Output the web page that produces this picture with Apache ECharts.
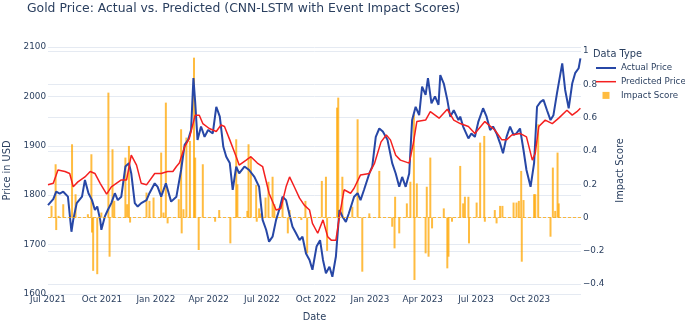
<!DOCTYPE html>
<html><head><meta charset="utf-8">
<script src="https://cdn.jsdelivr.net/npm/echarts@6/dist/echarts.min.js"></script>
<style>html,body{margin:0;padding:0;background:#fff}#c{width:685px;height:322px}</style>
</head><body><div id="c"></div>
<script>
const actualDates = ['2021-07-01','2021-07-10','2021-07-15','2021-07-21','2021-07-27','2021-07-30','2021-08-04','2021-08-10','2021-08-13','2021-08-19','2021-08-28','2021-09-02','2021-09-08','2021-09-14','2021-09-19','2021-09-23','2021-09-28','2021-09-30','2021-10-06','2021-10-11','2021-10-17','2021-10-23','2021-10-28','2021-11-03','2021-11-10','2021-11-16','2021-11-20','2021-11-26','2021-12-01','2021-12-07','2021-12-16','2021-12-21','2021-12-30','2022-01-04','2022-01-10','2022-01-18','2022-01-27','2022-02-05','2022-02-13','2022-02-19','2022-02-25','2022-03-02','2022-03-06','2022-03-09','2022-03-13','2022-03-19','2022-03-25','2022-03-31','2022-04-08','2022-04-14','2022-04-20','2022-04-26','2022-05-01','2022-05-07','2022-05-12','2022-05-18','2022-05-23','2022-06-01','2022-06-09','2022-06-18','2022-06-26','2022-07-02','2022-07-08','2022-07-13','2022-07-19','2022-07-25','2022-07-31','2022-08-05','2022-08-11','2022-08-17','2022-08-22','2022-08-28','2022-09-03','2022-09-08','2022-09-14','2022-09-20','2022-09-25','2022-10-02','2022-10-08','2022-10-13','2022-10-18','2022-10-24','2022-10-29','2022-11-04','2022-11-10','2022-11-15','2022-11-21','2022-11-26','2022-12-05','2022-12-11','2022-12-16','2022-12-22','2022-12-31','2023-01-05','2023-01-11','2023-01-17','2023-01-23','2023-01-31','2023-02-08','2023-02-14','2023-02-20','2023-02-25','2023-03-03','2023-03-09','2023-03-14','2023-03-20','2023-03-26','2023-03-31','2023-04-06','2023-04-10','2023-04-16','2023-04-22','2023-04-28','2023-05-01','2023-05-07','2023-05-13','2023-05-18','2023-05-24','2023-06-01','2023-06-04','2023-06-09','2023-06-18','2023-06-23','2023-06-29','2023-07-05','2023-07-13','2023-07-19','2023-07-25','2023-07-30','2023-08-05','2023-08-11','2023-08-16','2023-08-22','2023-08-28','2023-09-03','2023-09-08','2023-09-14','2023-09-20','2023-09-25','2023-10-02','2023-10-08','2023-10-13','2023-10-19','2023-10-24','2023-10-30','2023-11-05','2023-11-10','2023-11-16','2023-11-25','2023-11-30','2023-12-06','2023-12-12','2023-12-17','2023-12-23','2023-12-26'];
const actualPrices = [1780,1792,1807,1803,1807,1804,1797,1726,1750,1784,1797,1831,1804,1790,1770,1777,1750,1730,1757,1770,1784,1804,1790,1797,1858,1865,1844,1784,1777,1784,1790,1804,1824,1817,1797,1824,1787,1797,1851,1902,1912,1932,2037,1989,1912,1939,1918,1932,1925,1979,1959,1898,1878,1865,1811,1858,1844,1858,1851,1837,1817,1750,1730,1706,1716,1750,1773,1797,1790,1760,1736,1723,1709,1716,1682,1669,1649,1696,1709,1669,1642,1655,1635,1676,1770,1757,1746,1763,1797,1804,1790,1811,1844,1858,1918,1935,1929,1912,1865,1844,1817,1837,1817,1844,1952,1979,1962,2020,2003,2037,1986,2000,1983,2043,2026,1993,1959,1972,1952,1959,1939,1915,1925,1918,1949,1976,1959,1932,1939,1925,1905,1885,1918,1939,1922,1925,1935,1891,1851,1817,1865,1979,1989,1993,1972,1952,1962,2006,2067,2013,1976,2026,2047,2057,2077];
const predictedDates = ['2021-07-01','2021-07-10','2021-07-18','2021-07-30','2021-08-07','2021-08-13','2021-08-21','2021-09-02','2021-09-11','2021-09-19','2021-09-28','2021-10-09','2021-10-17','2021-11-03','2021-11-12','2021-11-20','2021-11-29','2021-12-07','2021-12-16','2021-12-30','2022-01-10','2022-01-21','2022-01-30','2022-02-05','2022-02-10','2022-02-19','2022-02-27','2022-03-09','2022-03-16','2022-03-22','2022-04-02','2022-04-14','2022-04-22','2022-04-28','2022-05-07','2022-05-18','2022-05-23','2022-06-04','2022-06-12','2022-06-23','2022-07-02','2022-07-13','2022-07-25','2022-08-02','2022-08-11','2022-08-17','2022-08-25','2022-09-03','2022-09-11','2022-09-20','2022-09-25','2022-10-04','2022-10-13','2022-10-21','2022-10-27','2022-11-04','2022-11-10','2022-11-18','2022-11-29','2022-12-05','2022-12-16','2022-12-31','2023-01-09','2023-01-20','2023-01-29','2023-02-05','2023-02-14','2023-02-22','2023-03-09','2023-03-16','2023-03-22','2023-04-06','2023-04-14','2023-04-29','2023-05-13','2023-05-24','2023-06-04','2023-06-18','2023-06-29','2023-07-16','2023-08-02','2023-08-14','2023-08-22','2023-08-31','2023-09-14','2023-09-25','2023-10-05','2023-10-10','2023-10-16','2023-10-27','2023-11-08','2023-11-19','2023-12-03','2023-12-12','2023-12-20','2023-12-26'];
const predictedPrices = [1821,1824,1851,1848,1844,1817,1827,1837,1848,1844,1824,1802,1817,1831,1831,1881,1861,1824,1821,1844,1844,1848,1848,1858,1865,1898,1915,1962,1962,1945,1935,1929,1942,1939,1912,1878,1861,1871,1878,1865,1858,1804,1770,1773,1817,1837,1817,1794,1780,1770,1743,1723,1750,1716,1709,1709,1757,1811,1804,1814,1841,1844,1865,1908,1922,1912,1881,1871,1865,1905,1949,1952,1969,1956,1974,1952,1945,1939,1925,1949,1932,1912,1912,1922,1925,1918,1871,1885,1939,1952,1945,1956,1972,1962,1969,1976];
const impactDates = ['2021-07-07','2021-07-14','2021-07-15','2021-07-19','2021-07-27','2021-08-11','2021-08-17','2021-09-07','2021-09-13','2021-09-14','2021-09-16','2021-09-23','2021-09-30','2021-10-12','2021-10-14','2021-10-19','2021-10-22','2021-11-10','2021-11-13','2021-11-16','2021-11-18','2021-12-16','2021-12-21','2021-12-28','2022-01-10','2022-01-14','2022-01-18','2022-01-21','2022-02-09','2022-02-13','2022-02-14','2022-02-17','2022-02-22','2022-02-28','2022-03-07','2022-03-09','2022-03-15','2022-03-22','2022-04-12','2022-04-19','2022-05-08','2022-05-18','2022-05-20','2022-06-06','2022-06-08','2022-06-12','2022-06-21','2022-06-22','2022-06-26','2022-06-29','2022-07-07','2022-07-12','2022-07-19','2022-07-22','2022-08-05','2022-08-14','2022-08-17','2022-09-06','2022-09-13','2022-09-16','2022-10-11','2022-10-18','2022-10-20','2022-11-06','2022-11-08','2022-11-15','2022-12-02','2022-12-11','2022-12-19','2022-12-31','2023-01-17','2023-02-08','2023-02-12','2023-02-13','2023-02-20','2023-03-05','2023-03-11','2023-03-17','2023-03-18','2023-03-22','2023-04-06','2023-04-08','2023-04-11','2023-04-14','2023-04-17','2023-05-07','2023-05-13','2023-05-15','2023-05-21','2023-06-04','2023-06-09','2023-06-12','2023-06-18','2023-06-19','2023-07-02','2023-07-08','2023-07-15','2023-07-16','2023-08-02','2023-08-05','2023-08-11','2023-08-15','2023-09-03','2023-09-08','2023-09-12','2023-09-16','2023-09-17','2023-09-20','2023-10-08','2023-10-10','2023-10-15','2023-11-05','2023-11-09','2023-11-13','2023-11-17','2023-11-19'];
const impactScores = [0.07,0.32,-0.075,0.01,0.08,0.44,0.14,0.02,0.38,-0.09,-0.32,-0.34,0.03,0.75,-0.235,0.41,0.1,0.36,0.08,0.43,-0.03,0.15,0.1,0.12,0.39,0.03,0.69,-0.035,0.11,0.53,-0.095,0.05,0.48,0.46,0.96,0.36,-0.195,0.32,-0.025,0.045,-0.155,0.47,0.2,0.04,0.44,0.36,0.195,-0.025,0.055,0.025,0.12,0.215,0.245,0.08,0.12,-0.095,0.045,-0.015,0.1,-0.215,0.22,0.245,-0.2,0.66,0.72,0.245,0.065,0.59,-0.325,0.025,0.28,-0.055,-0.185,0.125,-0.095,0.085,0.215,0.62,-0.375,0.205,-0.215,0.185,-0.235,0.36,-0.065,0.055,-0.305,-0.235,-0.025,0.31,0.085,0.125,0.125,-0.155,0.09,0.45,0.49,-0.025,0.045,-0.035,0.07,0.07,0.09,0.09,0.1,0.28,-0.265,0.105,0.14,0.14,0.56,-0.115,0.3,0.04,0.39,0.085];
const xTickLabels = ['2021-07-01','2021-10-01','2022-01-01','2022-04-01','2022-07-01','2022-10-01','2023-01-01','2023-04-01','2023-07-01','2023-10-01'];
const rightTicks = [-0.4,-0.2,0,0.2,0.4,0.6,0.8,1];

const F = 'DejaVu Sans';
const TXT = '#2a3f5f';
const GRID = '#E5EAF2';
const MONTHS = ['Jan','Feb','Mar','Apr','May','Jun','Jul','Aug','Sep','Oct','Nov','Dec'];
function ts(s){const p=s.split('-');return Date.UTC(+p[0],+p[1]-1,+p[2]);}
function zip(a,b){return a.map((d,i)=>[ts(d),b[i]]);}

const chart = echarts.init(document.getElementById('c'));
chart.setOption({
  animation:false,
  backgroundColor:'#fff',
  title:[
    {text:'Gold Price: Actual vs. Predicted (CNN-LSTM with Event Impact Scores)',left:22,top:-2,
     textStyle:{fontFamily:F,fontSize:12.4,fontWeight:'normal',color:TXT}},
    {text:'Data Type',left:588,top:44,textStyle:{fontFamily:F,fontSize:9.8,fontWeight:'normal',color:TXT}}
  ],
  grid:{left:48,right:104,top:47,bottom:28,outerBoundsMode:'none',containLabel:false},
  legend:{
    orient:'vertical',left:596,top:63,padding:0,itemWidth:20,itemHeight:10,itemGap:3.7,
    textStyle:{fontFamily:F,fontSize:8.7,color:TXT},
    data:[{name:'Actual Price',icon:'path://M0,0M20,10M0,4h20v2h-20z'},
          {name:'Predicted Price',icon:'path://M0,0M20,10M0,4.25h20v1.5h-20z'},
          {name:'Impact Score',icon:'path://M0,0M20,10M6.5,1.5h7v7h-7z'}]
  },
  xAxis:{
    type:'value',min:ts('2021-07-01'),max:ts('2023-12-27'),
    axisLine:{show:false},axisTick:{show:false},splitLine:{show:false},
    axisLabel:{customValues:xTickLabels.map(ts),fontFamily:F,fontSize:8.8,color:TXT,margin:1,
      formatter:function(v){const d=new Date(v);return MONTHS[d.getUTCMonth()]+' '+d.getUTCFullYear();}},
    name:'Date',nameLocation:'middle',nameGap:18,
    nameTextStyle:{fontFamily:F,fontSize:9.8,color:TXT}
  },
  yAxis:[
    {type:'value',min:1600,max:2100,interval:100,
     axisLine:{show:false},axisTick:{show:false},
     splitLine:{show:true,lineStyle:{color:GRID,width:1}},
     axisLabel:{fontFamily:F,fontSize:8.8,color:TXT,margin:2,formatter:function(v){return String(v);}},
     name:'Price in USD',nameLocation:'middle',nameGap:34,
     nameTextStyle:{fontFamily:F,fontSize:9.8,color:TXT}},
    {type:'value',min:-0.459,max:1.024,position:'right',
     axisLine:{show:false},axisTick:{show:false,customValues:rightTicks},
     splitLine:{show:true,lineStyle:{color:GRID,width:1}},
     axisLabel:{customValues:rightTicks,fontFamily:F,fontSize:8.8,color:TXT,margin:2,
       formatter:function(v){const r=Math.round(v*10)/10;return (r<0?'\u2212':'')+Math.abs(r);}},
     name:'Impact Score',nameLocation:'middle',nameGap:34,
     nameTextStyle:{fontFamily:F,fontSize:9.8,color:TXT}}
  ],
  series:[
    {name:'Impact Score',type:'bar',yAxisIndex:1,data:zip(impactDates,impactScores),
     barWidth:2,itemStyle:{color:'#FFA500',opacity:0.75},
     markLine:{silent:true,symbol:'none',label:{show:false},
       lineStyle:{color:'#FFA500',type:[3,2],width:1,opacity:0.75},data:[{yAxis:0}]}},
    {name:'Actual Price',type:'line',data:zip(actualDates,actualPrices),symbol:'none',
     lineStyle:{color:'#2747A6',width:2},itemStyle:{color:'#2747A6'}},
    {name:'Predicted Price',type:'line',data:zip(predictedDates,predictedPrices),symbol:'none',
     lineStyle:{color:'#F42020',width:1.5},itemStyle:{color:'#F42020'}}
  ]
});
</script></body></html>
